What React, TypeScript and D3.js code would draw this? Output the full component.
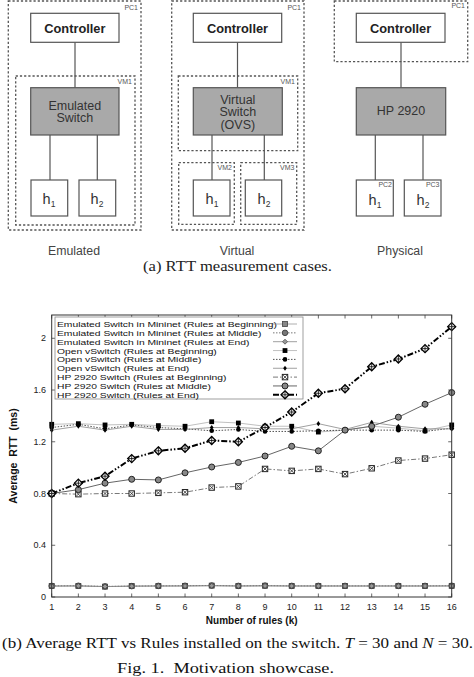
import React from "react";
import * as d3 from "d3";

const ruleCounts = [1, 2, 3, 4, 5, 6, 7, 8, 9, 10, 11, 12, 13, 14, 15, 16];
const emuBegin = [0.085, 0.085, 0.08, 0.085, 0.085, 0.086, 0.088, 0.085, 0.087, 0.085, 0.085, 0.085, 0.085, 0.085, 0.085, 0.086];
const emuMiddle = [0.086, 0.087, 0.082, 0.084, 0.086, 0.087, 0.089, 0.086, 0.088, 0.086, 0.086, 0.086, 0.086, 0.086, 0.086, 0.087];
const emuEnd = [0.084, 0.086, 0.081, 0.083, 0.085, 0.085, 0.087, 0.085, 0.086, 0.085, 0.085, 0.085, 0.085, 0.085, 0.085, 0.085];
const ovsBegin = [1.335, 1.34, 1.33, 1.335, 1.325, 1.32, 1.355, 1.345, 1.32, 1.32, 1.275, 1.29, 1.32, 1.305, 1.285, 1.33];
const ovsMiddle = [1.31, 1.335, 1.30, 1.33, 1.31, 1.30, 1.285, 1.295, 1.28, 1.28, 1.285, 1.29, 1.29, 1.29, 1.28, 1.305];
const ovsEnd = [1.29, 1.32, 1.29, 1.32, 1.295, 1.295, 1.31, 1.31, 1.30, 1.30, 1.34, 1.295, 1.35, 1.32, 1.30, 1.30];
const hpBegin = [0.8, 0.795, 0.80, 0.80, 0.805, 0.81, 0.846, 0.855, 0.99, 0.975, 0.99, 0.95, 0.995, 1.055, 1.07, 1.10];
const hpMiddle = [0.8, 0.83, 0.88, 0.91, 0.905, 0.96, 1.005, 1.04, 1.09, 1.165, 1.13, 1.29, 1.32, 1.39, 1.49, 1.58];
const hpEnd = [0.8, 0.88, 0.934, 1.07, 1.13, 1.15, 1.21, 1.20, 1.31, 1.43, 1.575, 1.61, 1.78, 1.84, 1.92, 2.09];
const seriesNames = [
  "Emulated Switch in Mininet (Rules at Beginning)",
  "Emulated Switch in Mininet (Rules at Middle)",
  "Emulated Switch in Mininet (Rules at End)",
  "Open vSwitch (Rules at Beginning)",
  "Open vSwitch (Rules at Middle)",
  "Open vSwitch (Rules at End)",
  "HP 2920 Switch (Rules at Beginning)",
  "HP 2920 Switch (Rules at Middle)",
  "HP 2920 Switch (Rules at End)",
];
const yTicks = [0, 0.4, 0.8, 1.2, 1.6, 2];
const yTickLabels = ["0", "0.4", "0.8", "1.2", "1.6", "2"];

const seriesValues = [emuBegin, emuMiddle, emuEnd, ovsBegin, ovsMiddle, ovsEnd, hpBegin, hpMiddle, hpEnd];

type Style = { stroke: string; width: number; dash?: string; marker: string };
const styles: Style[] = [
  { stroke: "#9a9a9a", width: 0.8, marker: "openSquare" },
  { stroke: "#555", width: 0.8, dash: "1.5,1.5", marker: "openCircle" },
  { stroke: "#888", width: 0.8, marker: "openDiamond" },
  { stroke: "#b0b0b0", width: 0.8, marker: "fillSquare" },
  { stroke: "#222", width: 0.8, dash: "1.5,1.5", marker: "fillCircle" },
  { stroke: "#888", width: 0.8, marker: "fillDiamond" },
  { stroke: "#555", width: 0.8, dash: "5,2,1.5,2", marker: "xSquare" },
  { stroke: "#666", width: 1, marker: "hatchCircle" },
  { stroke: "#000", width: 2, dash: "6,2,1.5,2,1.5,2", marker: "bigDiamond" },
];

function Marker({ kind, x, y }: { kind: string; x: number; y: number }) {
  switch (kind) {
    case "openSquare":
      return <rect x={x - 2.5} y={y - 2.5} width={5} height={5} fill="#888" stroke="#444" strokeWidth={0.8} />;
    case "openCircle":
      return <circle cx={x} cy={y} r={2.8} fill="#777" stroke="#333" strokeWidth={0.8} />;
    case "openDiamond":
      return <path d={`M${x},${y - 2.5}L${x + 2.5},${y}L${x},${y + 2.5}L${x - 2.5},${y}Z`} fill="#999" stroke="#444" strokeWidth={0.7} />;
    case "fillSquare":
      return <rect x={x - 2.4} y={y - 2.4} width={4.8} height={4.8} fill="#000" />;
    case "fillCircle":
      return <circle cx={x} cy={y} r={2.3} fill="#000" />;
    case "fillDiamond":
      return <path d={`M${x},${y - 2.6}L${x + 1.8},${y}L${x},${y + 2.6}L${x - 1.8},${y}Z`} fill="#000" />;
    case "xSquare":
      return (
        <g>
          <rect x={x - 2.7} y={y - 2.7} width={5.4} height={5.4} fill="#fff" stroke="#222" strokeWidth={1} />
          <path d={`M${x - 2},${y - 2}L${x + 2},${y + 2}M${x + 2},${y - 2}L${x - 2},${y + 2}`} stroke="#222" strokeWidth={0.8} />
        </g>
      );
    case "hatchCircle":
      return <circle cx={x} cy={y} r={3} fill="#888" stroke="#222" strokeWidth={1} />;
    case "bigDiamond":
      return (
        <g>
          <path d={`M${x},${y - 4}L${x + 4},${y}L${x},${y + 4}L${x - 4},${y}Z`} fill="#fff" stroke="#000" strokeWidth={1.3} />
          <path d={`M${x},${y - 4}V${y + 4}M${x - 4},${y}H${x + 4}`} stroke="#000" strokeWidth={0.8} />
        </g>
      );
  }
  return null;
}

const boxStroke = "#555";
const dashStroke = "#555";
const sans = "Liberation Sans, Arial";
const serif = "Liberation Serif, Times New Roman";

function H({ x, y, sub }: { x: number; y: number; sub: string }) {
  return (
    <text x={x} y={y} fontFamily={sans} fontSize={14.5} fill="#333" textAnchor="middle">
      h<tspan fontSize={8.5} dy={3}>{sub}</tspan>
    </text>
  );
}

function Diagram() {
  const solidBox = (x1: number, y1: number, x2: number, y2: number, fill = "#fff") => (
    <rect x={x1} y={y1} width={x2 - x1} height={y2 - y1} fill={fill} stroke={boxStroke} strokeWidth={1.2} />
  );
  const dashBox = (x1: number, y1: number, x2: number, y2: number) => (
    <rect x={x1} y={y1} width={x2 - x1} height={y2 - y1} fill="none" stroke={dashStroke} strokeWidth={1.3} strokeDasharray="2.2,2" />
  );
  const smallLbl = (x: number, y: number, t: string) => (
    <text x={x} y={y} fontFamily={sans} fontSize={7} fill="#555" textAnchor="end">{t}</text>
  );
  const ln = (x1: number, y1: number, x2: number, y2: number) => (
    <line x1={x1} y1={y1} x2={x2} y2={y2} stroke="#555" strokeWidth={1.2} />
  );
  const ctrl = (x1: number, x2: number) => (
    <g>
      {solidBox(x1, 13.3, x2, 42.3)}
      <text x={(x1 + x2) / 2} y={32.5} textAnchor="middle" fontFamily={sans} fontWeight="bold" fontSize={12.8} fill="#222">Controller</text>
    </g>
  );
  const swText = (x: number, y: number, t: string) => (
    <text x={x} y={y} textAnchor="middle" fontFamily={sans} fontSize={12.5} fill="#333">{t}</text>
  );
  const sw = "#a9a9a9";
  return (
    <g>
      {/* Emulated */}
      {dashBox(8.3, 1, 141, 230)}
      {smallLbl(138, 10, "PC1")}
      {ln(75, 42.3, 75, 87.7)}
      {ln(50, 135, 50, 180)}
      {ln(97.3, 135, 97.3, 180)}
      {ctrl(30.7, 119)}
      {dashBox(15.7, 76, 135, 225)}
      {smallLbl(132, 84, "VM1")}
      {solidBox(30.7, 87.7, 119, 135, sw)}
      {swText(74.8, 109.5, "Emulated")}
      {swText(74.8, 122, "Switch")}
      {solidBox(31, 180, 67.7, 216)}
      {solidBox(79, 180, 115.7, 216)}
      <H x={49} y={203.5} sub="1" />
      <H x={97} y={203.5} sub="2" />

      {/* Virtual */}
      {dashBox(171.7, 1, 304, 230)}
      {smallLbl(301, 10, "PC1")}
      {ln(237.5, 42.3, 237.5, 87.7)}
      {ln(212, 135, 212, 180)}
      {ln(264.3, 135, 264.3, 180)}
      {ctrl(193.3, 281.7)}
      {dashBox(178.3, 76, 297.7, 150.7)}
      {smallLbl(295, 84, "VM1")}
      {solidBox(193.3, 87.7, 282.3, 135, sw)}
      {swText(237.8, 103.5, "Virtual")}
      {swText(237.8, 116, "Switch")}
      {swText(237.8, 129, "(OVS)")}
      {dashBox(178.7, 162.7, 234.3, 224.3)}
      {dashBox(240.7, 162.7, 296.7, 224.3)}
      {smallLbl(232, 170, "VM2")}
      {smallLbl(294.5, 170, "VM3")}
      {solidBox(193.3, 180, 230, 216)}
      {solidBox(245.3, 180, 281.7, 216)}
      <H x={212} y={203.5} sub="1" />
      <H x={264} y={203.5} sub="2" />

      {/* Physical */}
      {dashBox(334.3, 1, 467.7, 61.7)}
      {smallLbl(465, 8, "PC1")}
      {ln(401, 42.3, 401, 87.7)}
      {ln(375.3, 135, 375.3, 180)}
      {ln(423, 135, 423, 180)}
      {ctrl(356.3, 445)}
      {solidBox(356.3, 87.7, 445.7, 135, sw)}
      {swText(401, 115, "HP 2920")}
      {solidBox(356.3, 180, 393.3, 216)}
      {solidBox(404.3, 180, 441, 216)}
      {smallLbl(392, 187, "PC2")}
      {smallLbl(439.5, 187, "PC3")}
      <H x={375} y={205} sub="1" />
      <H x={423} y={205} sub="2" />

      <text x={74} y={254.5} textAnchor="middle" fontFamily={sans} fontSize={12.3} fill="#444">Emulated</text>
      <text x={237} y={254.5} textAnchor="middle" fontFamily={sans} fontSize={12.3} fill="#444">Virtual</text>
      <text x={400} y={254.5} textAnchor="middle" fontFamily={sans} fontSize={12.3} fill="#444">Physical</text>
      <text x={143} y={270.5} fontFamily={serif} fontSize={14} fill="#222" textLength={189} lengthAdjust="spacingAndGlyphs">(a) RTT measurement cases.</text>
    </g>
  );
}

export default function App() {
  const W = 474, Hh = 677;
  const left = 51.7, right = 451.7, top = 315, bottom = 597;
  const x = d3.scaleLinear().domain([1, 16]).range([left, right]);
  const y = d3.scaleLinear().domain([0, 2.18]).range([bottom, top]);
  const tl = 3.5;
  const lineGen = d3.line<number>().x((_, i) => x(ruleCounts[i])).y((d) => y(d));

  const legX = 57, legY0 = 324, legStep = 8.85;

  return (
    <div style={{ position: "absolute", left: 0, top: 0 }}>
      <svg width={W} height={Hh} style={{ display: "block" }}>
        <rect width={W} height={Hh} fill="#fff" />
        <Diagram />

        {/* ticks */}
        {ruleCounts.map((k) => (
          <g key={"xt" + k}>
            <line x1={x(k)} x2={x(k)} y1={bottom} y2={bottom - tl} stroke="#444" strokeWidth={0.8} />
            <line x1={x(k)} x2={x(k)} y1={top} y2={top + tl} stroke="#444" strokeWidth={0.8} />
            <text x={x(k)} y={610} textAnchor="middle" fontFamily={sans} fontSize={9} fill="#222">{k}</text>
          </g>
        ))}
        {yTicks.map((t, i) => (
          <g key={"yt" + t}>
            <line x1={left} x2={left + tl} y1={y(t)} y2={y(t)} stroke="#444" strokeWidth={0.8} />
            <line x1={right} x2={right - tl} y1={y(t)} y2={y(t)} stroke="#444" strokeWidth={0.8} />
            <text x={46} y={y(t) + 3.2} textAnchor="end" fontFamily={sans} fontSize={9} fill="#222">{yTickLabels[i]}</text>
          </g>
        ))}

        {/* legend box */}
        <rect x={55} y={317} width={248} height={82} fill="#fff" stroke="#888" strokeWidth={0.8} />
        {seriesNames.map((n, i) => {
          const st = styles[i];
          const yy = legY0 + i * legStep;
          return (
            <g key={"lg" + i}>
              <text transform={`translate(${legX},${yy + 3}) scale(1.29,1)`} fontFamily={sans} fontSize={8} fill="#111">{n}</text>
              <line x1={273} x2={297} y1={yy} y2={yy} stroke={st.stroke} strokeWidth={st.width} strokeDasharray={st.dash} />
              <Marker kind={st.marker} x={285} y={yy} />
            </g>
          );
        })}

        {/* series */}
        {seriesValues.map((vals, i) => {
          const st = styles[i];
          return (
            <g key={"s" + i}>
              <path d={lineGen(vals) || ""} fill="none" stroke={st.stroke} strokeWidth={st.width} strokeDasharray={st.dash} />
              {vals.map((v, j) => (
                <Marker key={j} kind={st.marker} x={x(ruleCounts[j])} y={y(v)} />
              ))}
            </g>
          );
        })}

        {/* frame */}
        <rect x={left} y={top} width={right - left} height={bottom - top} fill="none" stroke="#333" strokeWidth={1} />

        <text x={251.7} y={624} textAnchor="middle" fontFamily={sans} fontWeight="bold" fontSize={10} fill="#111">Number of rules (k)</text>
        <text transform={`translate(16.5,${(top + bottom) / 2}) rotate(-90)`} textAnchor="middle" fontFamily={sans} fontWeight="bold" fontSize={10.5} fill="#111" style={{ whiteSpace: "pre" }}>Average  RTT  (ms)</text>

        <text x={2} y={648} fontFamily={serif} fontSize={14} fill="#111" style={{ whiteSpace: "pre" }} textLength={471} lengthAdjust="spacingAndGlyphs">
          (b) Average RTT vs Rules installed on the switch. <tspan fontStyle="italic">T</tspan> = 30 and <tspan fontStyle="italic">N</tspan> = 30.
        </text>
        <text x={117} y={673} fontFamily={serif} fontSize={14} fill="#111" style={{ whiteSpace: "pre" }} textLength={217} lengthAdjust="spacingAndGlyphs">Fig. 1.  Motivation showcase.</text>
      </svg>
    </div>
  );
}
